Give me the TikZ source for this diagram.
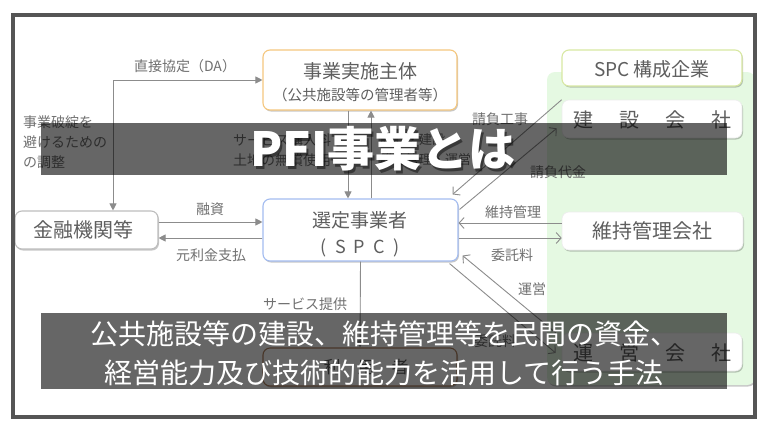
\documentclass[tikz,border=0pt]{standalone}
\usepackage{fontspec}
\setmainfont{Noto Sans CJK JP}
\usetikzlibrary{arrows.meta,calc,shadows}
\definecolor{frame}{HTML}{555555}
\definecolor{lab}{HTML}{707070}
\definecolor{boxtxt}{HTML}{5E5E5E}
\definecolor{linec}{HTML}{8C8C8C}
\definecolor{orangeb}{HTML}{F5C77E}
\definecolor{blueb}{HTML}{A3BCF0}
\definecolor{grayb}{HTML}{BDBDBD}
\definecolor{brownb}{HTML}{B58866}
\definecolor{yellowg}{HTML}{D8E8A2}
\definecolor{greenbg}{HTML}{E5F9E2}
\definecolor{whiteb}{HTML}{EDEDED}
\tikzset{
  shd/.style={drop shadow={shadow xshift=1pt,shadow yshift=-1.5pt,opacity=0.22,fill=black}},
  box/.style={draw,rounded corners=7pt,fill=white,line width=1.1pt,shd,inner sep=0pt},
  lbl/.style={text=lab,font={\fontsize{14}{17}\selectfont},inner sep=0pt},
  big/.style={text=boxtxt,font={\fontsize{19}{23}\selectfont},inner sep=0pt},
  arr/.style={draw=linec,line width=0.9pt,-{Triangle[length=7pt,width=7pt]},fill=linec},
  barb/.style={draw=linec,line width=0.9pt,-{Straight Barb[length=5pt,width=11pt]}},
  band/.style={fill=black,opacity=0.6},
  bandtxt/.style={text=white,font={\fontsize{28}{32}\selectfont},inner sep=0pt}
}
\begin{document}
\begin{tikzpicture}[x=1pt,y=-1pt]
\useasboundingbox (0,0) rectangle (768,432);
\fill[white] (0,0) rectangle (768,432);

% green group background
\fill[greenbg,rounded corners=8pt,shd] (547,72) rectangle (755,385);

% boxes
\node[box,draw=orangeb,minimum width=194pt,minimum height=60pt] (jigyo) at (360,80) {};
\node[big] (jigyoA) at (360,71) {事業実施主体};
\node[text=boxtxt,font={\fontsize{14.5}{17}\selectfont},inner sep=0pt] (jigyoB) at (360,95) {（公共施設等の管理者等）};

\node[box,draw=blueb,minimum width=195pt,minimum height=62pt] (spc) at (360.5,230) {};
\node[big] (spcA) at (360,220) {選定事業者};
\node[text=boxtxt,font={\fontsize{18}{22}\selectfont},inner sep=0pt] (spcB) at (360,248) {(\hspace{9pt}S\hspace{8pt}P\hspace{8pt}C\hspace{9pt})};

\node[box,draw=grayb,minimum width=143pt,minimum height=38pt] (kinyu) at (86.5,230) {};
\node[big,font={\fontsize{20}{24}\selectfont}] (kinyuT) at (83,230) {金融機関等};

\node[box,draw=brownb,minimum width=194pt,minimum height=38pt] (riyo) at (360,367) {};
\node[big,font={\fontsize{17}{20}\selectfont}] (riyoT) at (366,367) {利\hspace{17pt}用\hspace{17pt}者};

\node[box,draw=yellowg,minimum width=180pt,minimum height=36pt] (grp) at (652,68) {};
\node[big] (grpT) at (652,69) {SPC 構成企業};

\node[box,draw=whiteb,line width=0.6pt,minimum width=180pt,minimum height=38pt] (kensetsu) at (652,119) {};
\node[big,font={\fontsize{20}{24}\selectfont}] (kensetsuT) at (652,120) {建\hspace{26pt}設\hspace{26pt}会\hspace{26pt}社};

\node[box,draw=whiteb,line width=0.6pt,minimum width=181pt,minimum height=38pt] (iji) at (652.5,231) {};
\node[big,font={\fontsize{20}{24}\selectfont}] (ijiT) at (652,231) {維持管理会社};

\node[box,draw=whiteb,line width=0.6pt,minimum width=180pt,minimum height=38pt] (unei) at (652,352) {};
\node[big,font={\fontsize{20}{24}\selectfont}] (uneiT) at (652,353) {運\hspace{26pt}営\hspace{26pt}会\hspace{26pt}社};

% DA
\coordinate (da) at (113,80);
\draw[arr] (da) -- (jigyo.west);
\draw[arr] (da) -- (da |- kinyu.north);
\node[lbl] (daL) at (185,66) {直接協定（DA）};
\node[lbl,anchor=west,align=left,font={\fontsize{14}{20}\selectfont}] (daN) at (23,142) {事業破綻を\\避けるための\\の調整};

% finance
\draw[arr] (kinyu.east |- 0,222) -- (spc.west |- 0,222);
\draw[arr] (spc.west |- 0,238) -- (kinyu.east |- 0,238);
\node[lbl] (yushi) at (210,209) {融資};
\node[lbl] (ganri) at (211,255) {元利金支払};

% public <-> SPC
\draw[arr] (jigyo.south -| 348,0) -- (spc.north -| 348,0);
\draw[arr] (spc.north -| 371,0) -- (jigyo.south -| 371,0);
\node[lbl,anchor=west,align=left,font={\fontsize{14}{20}\selectfont}] (svc1) at (233,150) {サービス購入料\\土地の無償使用};
\node[lbl,anchor=west,align=left,font={\fontsize{13}{20}\selectfont}] (keiyaku) at (380,150) {設計・建設・\\維持管理・運営};

% construction
\draw[barb] (kensetsu.north west) -- ($(spc.north east)+(-6,-4)$);
\draw[barb] ($(spc.north east)+(1,11)$) -- ($(kensetsu.south west)+(-5,-10)$);
\node[lbl] (ukeoi1) at (500,119) {請負工事};
\node[lbl] (ukeoi2) at (558,172) {請負代金};

% maintenance
\draw[barb] (iji.west |- 0,223) -- (spc.east |- 0,223);
\draw[barb] (spc.east |- 0,238) -- (iji.west |- 0,238);
\node[lbl] (ijiL) at (513,212) {維持管理};
\node[lbl] (itaku1) at (512,255) {委託料};

% operation
\draw[barb] ($(unei.north west)+(-6,0)$) -- ($(spc.south east)+(4,-6)$);
\draw[barb] ($(spc.south east)+(-9,2)$) -- ($(unei.west)+(-6,1)$);
\node[lbl] (uneiL) at (532,289) {運営};
\node[lbl] (itaku2) at (495,341) {委託料};

% service
\draw[arr] (spc.south) -- (riyo.north);
\node[lbl] (svc) at (305,304) {サービス提供};

% outer frame
\draw[frame,line width=4pt] (13,15) rectangle (755,417);

% bands
\fill[band] (41,123) rectangle (727,175);
\fill[band] (41,313) rectangle (727,389);

\node[text=black,opacity=0.45,font={\fontsize{47}{54}\selectfont\bfseries},inner sep=0pt] (titleS) at (385,152) {PFI事業とは};
\node[text=white,font={\fontsize{47}{54}\selectfont\bfseries},inner sep=0pt] (title) at (383,149) {PFI事業とは};

\node[bandtxt] (sub1) at (384,334) {公共施設等の建設、維持管理等を民間の資金、};
\node[bandtxt] (sub2) at (384,373) {経営能力及び技術的能力を活用して行う手法};
\end{tikzpicture}
\end{document}
